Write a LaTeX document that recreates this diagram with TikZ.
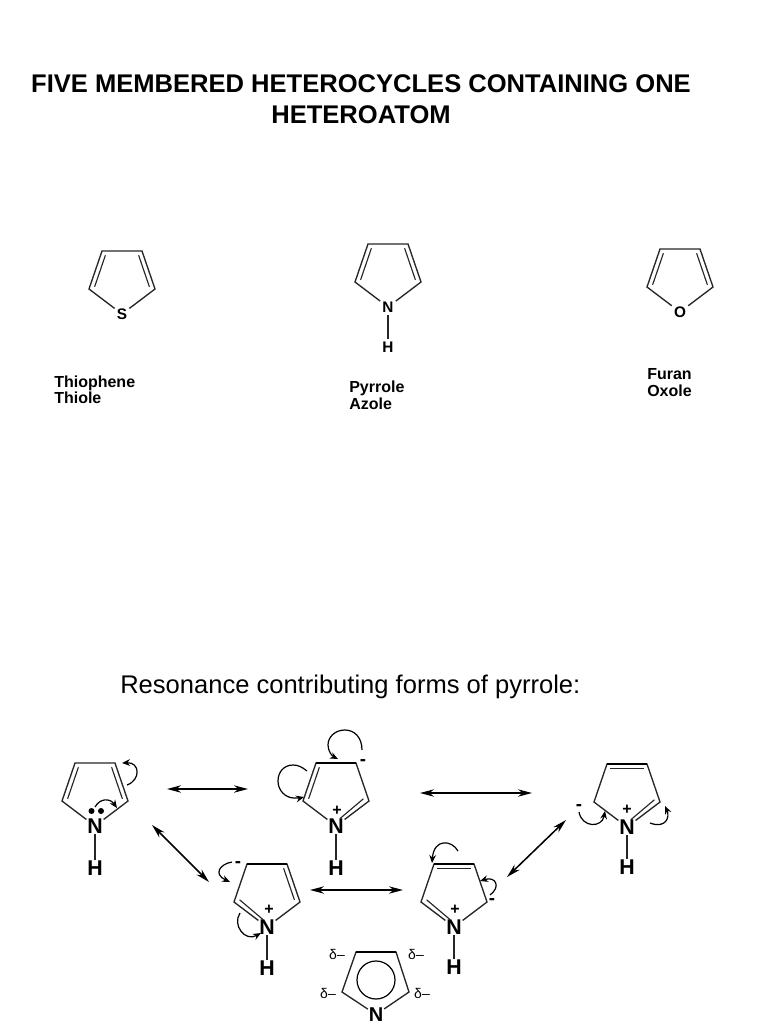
\documentclass[tikz,border=0pt]{standalone}
\usepackage{fontspec}
\setmainfont{Liberation Sans}
\usetikzlibrary{arrows.meta,calc}
\tikzset{
  atomS/.style={font=\bfseries\fontsize{11.5}{12}\selectfont,inner sep=1.5pt},
  atomL/.style={font=\bfseries\fontsize{16}{17}\selectfont,inner sep=0.5pt},
  atomB/.style={font=\bfseries\fontsize{15}{16}\selectfont,inner sep=0.5pt},
  bond/.style={line width=1pt,line join=miter,black!85},
  heavy/.style={line width=1.4pt,black},
  dbl/.style={line width=0.85pt,black!85},
  reso/.style={line width=1.15pt,{Stealth[length=10.5pt,width=5.5pt]}-{Stealth[length=10.5pt,width=5.5pt]}},
  curly/.style={line width=0.9pt,-{Stealth[length=6pt,width=5pt]}},
  chargelab/.style={font=\bfseries\fontsize{14}{14}\selectfont,inner sep=0pt},
  pluslab/.style={font=\bfseries\fontsize{12}{12}\selectfont,inner sep=0pt},
  deltalab/.style={font=\fontsize{10.5}{12}\selectfont,inner sep=0pt},
  namelab/.style={font=\bfseries\fontsize{12}{12}\selectfont,inner sep=0pt,anchor=base west},
  titlelab/.style={font=\bfseries\fontsize{19.16}{22}\selectfont,inner sep=0pt,anchor=base},
  sublab/.style={font=\fontsize{19.16}{22}\selectfont,inner sep=0pt,anchor=base west},
  lonedot/.style={circle,fill=black,inner sep=0pt,minimum size=4.5pt}
}
\newcommand{\ringat}[5]{% prefix, x, y, letter, atom style
  \node[#5] (#1N) at (#2,#3) {#4};
  \coordinate (#1P) at (#2,#3);
  \coordinate (#1a) at ({#2-33},{#3-25});
  \coordinate (#1b) at ({#2-20},{#3-63});
  \coordinate (#1d) at ({#2+20},{#3-63});
  \coordinate (#1e) at ({#2+33},{#3-25});
  \coordinate (#1c) at (#2,{#3-38});
  \draw[bond] (#1N) -- (#1a) -- (#1b) -- (#1d) -- (#1e) -- (#1N);
}
\newcommand{\innerbond}[3]{\draw[dbl] ($(#1)!.17!(#3)$) -- ($(#2)!.17!(#3)$);}
\begin{document}
\begin{tikzpicture}[x=0.75pt,y=-0.75pt]
\useasboundingbox (0,0) rectangle (768,1024);
\fill[white] (0,0) rectangle (768,1024);
% titles
\node[titlelab] (t1) at (361,93) {FIVE MEMBERED HETEROCYCLES CONTAINING ONE};
\node[titlelab] (t2) at (361,123) {HETEROATOM};
\node[sublab] (t3) at (120,693) {Resonance contributing forms of pyrrole:};
% thiophene
\ringat{s}{122}{314}{S}{atomS}
\innerbond{sa}{sb}{sc}\innerbond{sd}{se}{sc}
\node[namelab] (sn1) at (54,387) {Thiophene};
\node[namelab] (sn2) at (54,403) {Thiole};
% pyrrole
\ringat{p}{388}{307}{N}{atomS}
\innerbond{pa}{pb}{pc}\innerbond{pd}{pe}{pc}
\node[atomS] (pH) at (388,347) {H};
\draw[bond] (pN) -- (pH);
\node[namelab] (pn1) at (349,392) {Pyrrole};
\node[namelab] (pn2) at (349,409) {Azole};
% furan
\ringat{f}{680}{312}{O}{atomS}
\innerbond{fa}{fb}{fc}\innerbond{fd}{fe}{fc}
\node[namelab] (fn1) at (647,379) {Furan};
\node[namelab] (fn2) at (647,396) {Oxole};
% form A
\ringat{a}{95}{826}{N}{atomL}
\innerbond{aa}{ab}{ac}\innerbond{ad}{ae}{ac}
\node[atomL] (aH) at (95,868) {H};
\draw[bond] (aN) -- (aH);
\node[lonedot] (ad1) at (91.5,811) {};
\node[lonedot] (ad2) at (101,811) {};
\draw[curly] (95,807) .. controls (100,798) and (110,798) .. (117,808);
\draw[curly] (127,785) .. controls (141,780) and (140,762) .. (122,763);
% form B
\ringat{b}{336}{826}{N}{atomL}
\draw[heavy] (bb) -- (bd);
\innerbond{ba}{bb}{bc}
\draw[dbl] ($(bP)!.17!(bc)+(4,-1)$) -- ($(be)!.17!(bc)$);
\node[pluslab] (bp) at (337,811) {+};
\node[atomL] (bH) at (336,868) {H};
\draw[bond] (bN) -- (bH);
\node[chargelab] (bm) at (363,763) {-};
\draw[curly] (362,750) .. controls (362,737) and (354,730) .. (345,730) .. controls (335,730) and (328,737) .. (328,745) .. controls (328,751) and (332,756) .. (338,759);
\draw[curly] (307,771) .. controls (302,767) and (298,765) .. (293,765) .. controls (284,765) and (278,772) .. (278,781) .. controls (278,791) and (286,798) .. (294,798) .. controls (297,798) and (300,798) .. (304,797);
% form C
\ringat{c}{267}{927}{N}{atomL}
\draw[heavy] (cb) -- (cd);
\innerbond{cd}{ce}{cc}
\draw[dbl] ($(cP)!.17!(cc)+(-4,-1)$) -- ($(ca)!.17!(cc)$);
\node[pluslab] (cp) at (269,910) {+};
\node[atomL] (cH) at (267,968) {H};
\draw[bond] (cN) -- (cH);
\node[chargelab] (cm) at (238,865) {-};
\draw[curly] (232,862) .. controls (220,864) and (213,874) .. (230,882);
\draw[curly] (240,913) .. controls (232,925) and (245,942) .. (261,933);
% form D
\ringat{d}{454}{927}{N}{atomL}
\draw[heavy] (db) -- (dd);
\innerbond{db}{dd}{dc}
\draw[dbl] ($(dP)!.17!(dc)+(-4,-1)$) -- ($(da)!.17!(dc)$);
\node[pluslab] (dp) at (455,910) {+};
\node[atomL] (dH) at (454,967) {H};
\draw[bond] (dN) -- (dH);
\node[chargelab] (dm) at (492,902) {-};
\draw[curly] (458,851) .. controls (452,840) and (434,838) .. (432,863);
\draw[curly] (490,895) .. controls (501,887) and (496,876) .. (480,881);
% form E
\ringat{e}{627}{827}{N}{atomL}
\draw[heavy] (eb) -- (ed);
\innerbond{eb}{ed}{ec}
\draw[dbl] ($(eP)!.17!(ec)+(4,-1)$) -- ($(ee)!.17!(ec)$);
\node[pluslab] (ep) at (627,810) {+};
\node[atomL] (eH) at (627,867) {H};
\draw[bond] (eN) -- (eH);
\node[chargelab] (em) at (579,808) {-};
\draw[curly] (579,812) .. controls (582,828) and (602,828) .. (605,811);
\draw[curly] (650,823) .. controls (666,829) and (670,817) .. (665,806);
% form F (hybrid)
\coordinate (hb) at (356,952);
\coordinate (hd) at (396,952);
\coordinate (ha) at (342,992);
\coordinate (he) at (409,992);
\node[atomB] (hN) at (376,1014.5) {N};
\draw[bond] (hN) -- (ha) -- (hb) -- (hd) -- (he) -- (hN);
\draw[heavy] (hb) -- (hd);
\node[circle,draw,line width=0.9pt,minimum size=28.5pt,inner sep=0pt] (hr) at (376,980) {};
\node[deltalab] (h1) at (337,954) {δ–};
\node[deltalab] (h2) at (416,954) {δ–};
\node[deltalab] (h3) at (328,993) {δ–};
\node[deltalab] (h4) at (422,993) {δ–};
% resonance arrows
\coordinate (r1a) at (167,789); \coordinate (r1b) at (248,789);
\coordinate (r2a) at (420,793); \coordinate (r2b) at (532,793);
\coordinate (r3a) at (152,825); \coordinate (r3b) at (209,882);
\coordinate (r4a) at (310,890); \coordinate (r4b) at (403,890);
\coordinate (r5a) at (507,877); \coordinate (r5b) at (566,820);
\draw[reso] (r1a) -- (r1b);
\draw[reso] (r2a) -- (r2b);
\draw[reso] (r3a) -- (r3b);
\draw[reso] (r4a) -- (r4b);
\draw[reso] (r5a) -- (r5b);
\end{tikzpicture}
\end{document}
